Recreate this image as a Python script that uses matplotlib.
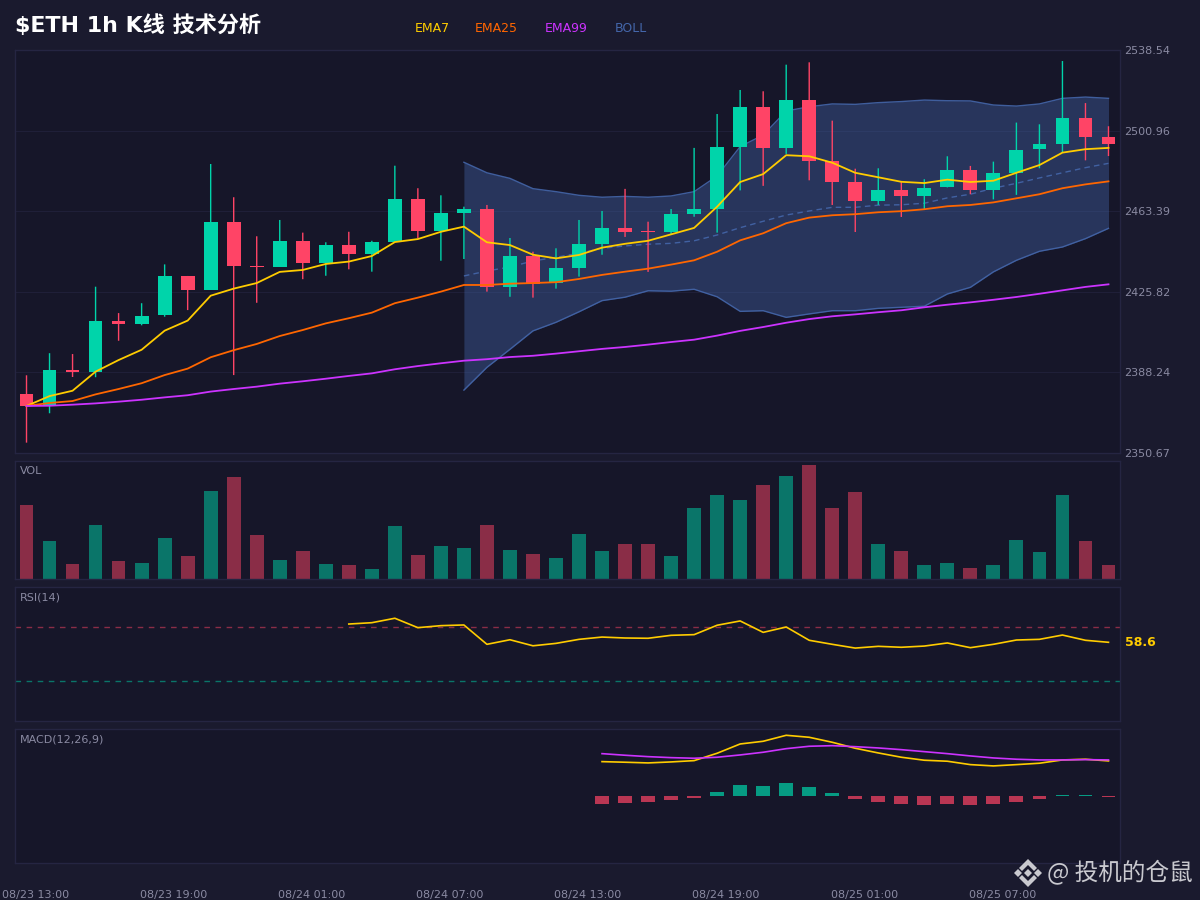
import matplotlib
matplotlib.use("Agg")
import matplotlib.pyplot as plt
from matplotlib.patches import Polygon
import numpy as np

BG = '#1a1a2e'
PANEL = '#161629'
BORDER = '#252542'
GRID = '#1f1f38'
TXT = '#8a8aa2'
UP = '#00d4aa'
DOWN = '#ff4466'
YEL = '#ffcc00'
ORG = '#ff6600'
PUR = '#cc33ff'
BLU = '#4466aa'

opens = [2378.0,2372.7,2389.4,2388.4,2412.2,2410.9,2414.9,2433.2,2426.7,2458.5,2437.9,2437.5,
         2449.6,2439.1,2447.5,2443.6,2449.2,2469.1,2454.2,2462.7,2464.6,2428.2,2442.5,2429.8,
         2436.8,2448.1,2455.6,2454.0,2453.7,2462.2,2464.3,2493.5,2512.0,2492.9,2515.1,2486.7,
         2477.0,2468.0,2473.1,2470.6,2474.5,2482.7,2473.4,2481.1,2492.3,2494.9,2506.9,2498.0]
closes = [2372.6,2389.2,2388.3,2412.1,2410.8,2414.7,2433.2,2426.7,2458.5,2438.0,2437.4,2449.6,
          2439.3,2447.5,2443.6,2449.2,2469.1,2454.2,2462.6,2464.6,2428.2,2442.5,2429.6,2436.8,
          2448.0,2455.6,2453.8,2453.6,2462.1,2464.3,2493.5,2512.0,2492.9,2515.1,2486.8,2477.0,
          2468.0,2473.1,2470.6,2474.4,2482.7,2473.4,2481.1,2492.1,2494.9,2506.9,2498.0,2494.7]
highs = [2386.9,2397.2,2396.8,2428.2,2415.9,2420.5,2438.6,2433.2,2485.4,2469.9,2451.7,2459.3,
         2453.4,2448.9,2453.8,2449.6,2484.6,2474.1,2470.8,2465.5,2466.3,2450.9,2444.5,2446.1,
         2459.3,2463.5,2473.8,2458.5,2464.4,2492.9,2508.7,2519.9,2519.3,2531.7,2532.8,2505.6,
         2483.2,2483.4,2477.0,2478.3,2489.0,2484.5,2486.5,2504.7,2503.9,2533.4,2513.8,2503.0]
lows = [2355.5,2369.2,2386.1,2386.0,2403.0,2410.2,2414.2,2417.3,2426.7,2387.0,2420.7,2437.5,
        2431.7,2433.3,2436.3,2435.2,2449.2,2450.8,2440.3,2441.1,2425.9,2423.5,2423.1,2427.3,
        2432.9,2443.1,2451.4,2435.1,2452.6,2460.8,2453.4,2473.1,2475.2,2490.1,2477.8,2466.3,
        2453.7,2466.3,2460.7,2464.1,2474.5,2471.3,2468.9,2471.0,2483.4,2490.7,2487.1,2489.1]
ema7 = [2372.6,2377.2,2379.7,2388.6,2394.0,2398.8,2407.7,2412.4,2424.0,2427.3,2429.9,2435.1,
        2436.0,2438.8,2439.9,2442.5,2449.0,2450.4,2453.8,2456.2,2448.9,2447.6,2443.1,2441.4,
        2443.0,2446.4,2448.2,2449.6,2452.6,2455.6,2465.5,2477.0,2480.7,2489.5,2489.0,2486.0,
        2481.3,2479.2,2477.1,2476.5,2478.1,2477.0,2477.6,2481.3,2484.9,2490.7,2492.3,2492.9]
ema25 = [2372.6,2374.0,2374.9,2378.0,2380.5,2383.2,2387.0,2390.0,2395.3,2398.6,2401.5,2405.2,
         2408.0,2411.1,2413.5,2416.1,2420.5,2423.1,2425.9,2429.0,2429.0,2429.6,2429.9,2430.3,
         2431.8,2433.7,2435.2,2436.6,2438.5,2440.5,2444.5,2449.8,2453.1,2457.8,2460.4,2461.5,
         2462.0,2462.9,2463.4,2464.3,2465.7,2466.3,2467.5,2469.4,2471.3,2474.1,2475.9,2477.3]
ema99 = [2372.6,2372.7,2373.2,2373.8,2374.6,2375.5,2376.6,2377.6,2379.3,2380.5,2381.6,2383.0,
         2384.1,2385.3,2386.6,2387.8,2389.7,2391.2,2392.5,2393.7,2394.4,2395.4,2396.0,2397.0,
         2398.1,2399.2,2400.1,2401.2,2402.4,2403.5,2405.4,2407.6,2409.4,2411.4,2413.1,2414.4,
         2415.3,2416.3,2417.2,2418.6,2419.8,2420.9,2422.1,2423.4,2424.9,2426.5,2428.1,2429.3]
boll_start = 19
boll_upper = [2486.2,2481.3,2478.7,2473.9,2472.5,2470.8,2469.9,2470.3,2469.9,2470.5,2472.5,2479.8,
              2493.5,2498.9,2510.1,2512.1,2513.4,2513.2,2514.0,2514.5,2515.2,2514.9,2514.8,2512.9,
              2512.4,2513.4,2516.0,2516.6,2516.0]
boll_mid = [2433.2,2435.5,2437.4,2440.2,2441.9,2443.8,2446.1,2447.2,2448.0,2448.4,2449.6,2452.3,
            2455.7,2458.7,2461.6,2463.5,2465.2,2465.2,2466.2,2466.4,2467.1,2469.6,2471.3,2474.1,
            2476.4,2478.9,2481.3,2483.7,2485.7]
boll_lower = [2380.0,2390.6,2399.0,2407.6,2411.6,2416.5,2421.7,2423.3,2426.3,2426.1,2427.0,2423.5,
              2416.7,2417.0,2413.9,2415.5,2417.0,2417.0,2418.1,2418.6,2419.1,2424.8,2427.9,2435.1,
              2440.5,2444.7,2446.7,2450.6,2455.4]
volumes = [737,380,147,533,173,157,403,223,877,1013,433,187,273,143,137,100,523,237,327,310,533,287,
           247,203,443,277,343,343,227,703,840,783,933,1023,1137,703,863,347,273,137,153,110,137,390,
           263,833,380,133]
rsi_start = 14
rsi = [72.2,73.2,76.5,69.5,71.0,71.5,57.1,60.5,56.0,57.8,60.8,62.5,61.8,61.6,63.8,64.3,71.3,74.5,
       66.0,70.0,60.1,57.1,54.3,55.6,54.9,55.8,58.1,54.6,57.1,60.3,60.8,64.0,60.1,58.6]
macd_start = 25
dif = [6.92,6.8,6.66,6.86,7.12,8.6,10.46,11.0,12.2,11.8,10.8,9.6,8.66,7.8,7.2,7.0,6.32,6.06,6.32,
       6.6,7.26,7.4,7.06]
dea = [8.52,8.2,7.92,7.72,7.6,7.8,8.26,8.8,9.52,10.0,10.12,9.92,9.66,9.32,8.92,8.52,8.06,7.66,7.4,
       7.26,7.26,7.32,7.26]
hist = [-1.6,-1.33,-1.2,-0.8,-0.47,0.8,2.2,2.07,2.67,1.8,0.67,-0.53,-1.13,-1.67,-1.8,-1.6,-1.8,
        -1.67,-1.13,-0.67,0.15,0.15,-0.1]
price_ticks = [2538.54,2500.96,2463.39,2425.82,2388.24,2350.67]
date_labels = ['08/23 13:00','08/23 19:00','08/24 01:00','08/24 07:00','08/24 13:00','08/24 19:00',
               '08/25 01:00','08/25 07:00']

plt.rcParams['font.family'] = ['DejaVu Sans', 'Noto Sans CJK SC']
W, H = 1200, 900
fig = plt.figure(figsize=(12, 9), dpi=100, facecolor=BG)

def panel(top, bottom):
    ax = fig.add_axes([15/W, 1-bottom/H, 1105/W, (bottom-top)/H], facecolor=PANEL)
    for s in ax.spines.values():
        s.set_color(BORDER)
        s.set_linewidth(1.0)
    ax.set_xlim(-0.5, 47.5)
    ax.set_xticks([])
    ax.set_yticks([])
    return ax

n = len(opens)
idx = np.arange(n)
colors = [UP if c >= o else DOWN for o, c in zip(opens, closes)]

# main
ax = panel(50, 453)
ax.set_ylim(price_ticks[-1], price_ticks[0])
ax.set_yticks(price_ticks)
ax.set_yticklabels([f'{p:.2f}' for p in price_ticks], fontsize=8, color=TXT)
ax.yaxis.tick_right()
ax.tick_params(axis='y', length=0, pad=3.2)
ax.grid(axis='y', color=GRID, lw=0.8, zorder=0)
ax.set_axisbelow(True)

bx = idx[boll_start:]
ax.fill_between(bx, boll_lower, boll_upper, color=BLU, alpha=0.4, lw=0, zorder=1)
ax.plot(bx, boll_upper, color=BLU, lw=1, alpha=0.9, zorder=2)
ax.plot(bx, boll_lower, color=BLU, lw=1, alpha=0.9, zorder=2)
ax.plot(bx, boll_mid, color=BLU, lw=1, ls=(0, (4, 3)), alpha=0.9, zorder=2)

for i in idx:
    l, = ax.plot([i, i], [lows[i], highs[i]], color=colors[i], lw=1.0, zorder=3, solid_capstyle='butt')
    l.set_snap(False)
ax.bar(idx, np.abs(np.array(closes)-np.array(opens)), bottom=np.minimum(opens, closes), width=0.6,
       color=colors, zorder=4, lw=0)
ax.plot(idx, ema7, color=YEL, lw=1.3, zorder=5)
ax.plot(idx, ema25, color=ORG, lw=1.3, zorder=5)
ax.plot(idx, ema99, color=PUR, lw=1.3, zorder=5)

# volume
axv = panel(460.7, 578.7)
axv.set_ylim(0, 1180)
axv.bar(idx, volumes, width=0.6, color=colors, alpha=0.5, lw=0)

# RSI
axr = panel(586.7, 721)
axr.set_ylim(0, 100)
axr.axhline(70, color=DOWN, lw=1, ls=(0, (4, 4)), alpha=0.5)
axr.axhline(30, color=UP, lw=1, ls=(0, (4, 4)), alpha=0.5)
axr.plot(idx[rsi_start:], rsi, color=YEL, lw=1.2)

# MACD
axm = panel(729.3, 863)
axm.set_ylim(-13.4, 13.4)
mx = idx[macd_start:]
axm.bar(mx, hist, width=0.6, color=[UP if h >= 0 else DOWN for h in hist], alpha=0.7, lw=0)
axm.plot(mx, dif, color=YEL, lw=1.2)
axm.plot(mx, dea, color=PUR, lw=1.2)
axm.set_xticks([i*6+0.39 for i in range(len(date_labels))])
axm.set_xticklabels(date_labels, fontsize=8, color=TXT)
axm.tick_params(axis='x', length=0, pad=19.5)

def ftext(x, y, s, **kw):
    kw.setdefault('va', 'center')
    kw.setdefault('ha', 'left')
    fig.text(x/W, 1-y/H, s, **kw)

ftext(15, 25, '$ETH 1h K线 技术分析', fontsize=15.9, fontweight='bold', color='white')
for x, s, c in zip([415, 475, 545, 615], ['EMA7', 'EMA25', 'EMA99', 'BOLL'], [YEL, ORG, PUR, BLU]):
    ftext(x, 28, s, fontsize=9, color=c)
ftext(20, 471.5, 'VOL', fontsize=8, color=TXT)
ftext(20, 597, 'RSI(14)', fontsize=8, color=TXT)
ftext(20, 740, 'MACD(12,26,9)', fontsize=8, color=TXT)
ftext(1125, 642, f'{rsi[-1]:.1f}', fontsize=9, fontweight='bold', color=YEL)

# watermark
WM = '#c9c9cf'
ftext(1047, 873, '@ 投机的仓鼠', fontsize=17, color=WM,
      family=['Noto Sans CJK SC', 'DejaVu Sans'])
cx, cy = 1028, 873
logo = [
    [(-14, 0), (-10, -4), (-6, 0), (-10, 4)],
    [(14, 0), (10, -4), (6, 0), (10, 4)],
    [(-4, 0), (0, -4), (4, 0), (0, 4)],
    [(0, -14), (9, -5), (6, -2), (0, -8), (-6, -2), (-9, -5)],
    [(0, 14), (9, 5), (6, 2), (0, 8), (-6, 2), (-9, 5)],
]
for pts in logo:
    fig.add_artist(Polygon([((cx+a)/W, 1-(cy+b)/H) for a, b in pts], closed=True, facecolor=WM,
                           edgecolor='none', transform=fig.transFigure))

fig.savefig('out.png', dpi=100, facecolor=BG)
